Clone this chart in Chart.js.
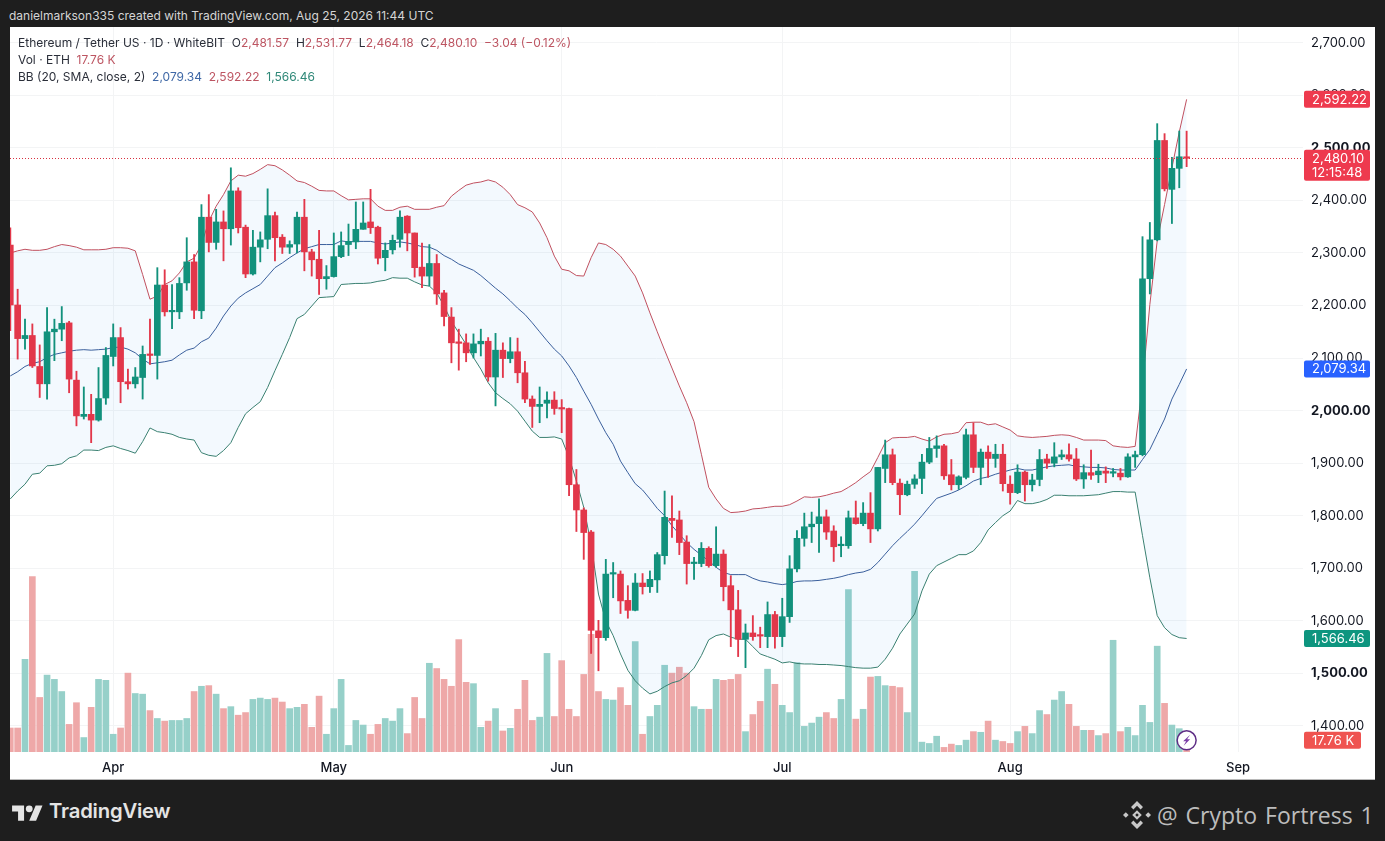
<!DOCTYPE html>
<html>
<head>
<meta charset="utf-8">
<title>ETH/USDT</title>
<script src="https://cdn.jsdelivr.net/npm/chart.js@4"></script>
<style>
  html, body { margin: 0; padding: 0; background: #1e1e1e; }
  body { width: 1385px; height: 841px; overflow: hidden; position: relative; font-family: Inter, sans-serif; }
  #panel { position: absolute; left: 10px; top: 27px; width: 1365px; height: 753px; background: #fff; border-bottom: 1px solid #b8b8b8; box-sizing: border-box; }
  canvas { position: absolute; left: 0; top: 0; }
  .abs { position: absolute; white-space: nowrap; }
  #credit { left: 9px; top: 8px; font-size: 12px; line-height: 15px; color: #d5d5d5; }
  .legend { left: 18px; font-size: 12px; line-height: 16px; color: #2a2e39; }
  .red { color: #bd5562; } .blue { color: #3f68a6; } .green { color: #2f8878; }
  #brand { left: 49px; top: 798px; font-size: 20.3px; line-height: 25px; font-weight: 600; color: #e4e4e4; letter-spacing: -0.2px; }
  #logo { left: 12px; top: 802px; }
  #watermark { left: 1157px; top: 797px; font-family: "Open Sans", sans-serif; font-size: 23px; line-height: 36px; color: #bcbcbc; word-spacing: 2px; }
  #bnb { left: 1123px; top: 801px; }
</style>
</head>
<body>
<div class="abs" id="credit">danielmarkson335 created with TradingView.com, Aug 25, 2026 11:44 UTC</div>
<div id="panel"><canvas id="chart" width="1365" height="752"></canvas></div>
<div class="abs legend" style="top:35px">Ethereum / Tether US · 1D · WhiteBIT &nbsp;O<span class="red">2,481.57</span> &nbsp;H<span class="red">2,531.77</span> &nbsp;L<span class="red">2,464.18</span> &nbsp;C<span class="red">2,480.10</span> &nbsp;<span class="red">−3.04 (−0.12%)</span></div>
<div class="abs legend" style="top:52px">Vol · ETH &nbsp;<span class="red">17.76 K</span></div>
<div class="abs legend" style="top:69px">BB (20, SMA, close, 2) &nbsp;<span class="blue">2,079.34</span> &nbsp;<span class="red">2,592.22</span> &nbsp;<span class="green">1,566.46</span></div>
<svg class="abs" id="logo" width="31" height="24" viewBox="0 0 36 28"><path fill="#e4e4e4" d="M14 22H7V11H0V4h14v18zM28 22h-8l7.5-18h8L28 22z"/><circle fill="#e4e4e4" cx="20" cy="8" r="4"/></svg>
<div class="abs" id="brand">TradingView</div>
<svg class="abs" id="bnb" width="28" height="28" viewBox="0 0 28 28"><g fill="#c8c8c8"><path d="M14 0l6 6-2.4 2.4L14 4.8l-3.6 3.6L8 6z"/><path d="M14 28l-6-6 2.4-2.4 3.6 3.6 3.6-3.6L20 22z"/><path d="M0 14l2.8-2.8L5.6 14l-2.8 2.8z"/><path d="M22.4 14l2.8-2.8L28 14l-2.8 2.8z"/><path d="M14 9.2l4.8 4.8L14 18.800l-4.800-4.800zM14 12.200L12.200 14l1.800 1.800 1.800-1.800z"/></g></svg>
<div class="abs" id="watermark">@ Crypto Fortress 1</div>

<script>
const opens = [2315,2201,2137,2143,2084,2051,2150,2155,2167,2058,1989,1993,1982,2024,2103,2139,2055,2051,2063,2107,2105,2239,2188,2188,2243,2283,2190,2368,2320,2359,2346,2418,2349,2260,2311,2326,2371,2330,2311,2317,2368,2302,2288,2251,2255,2293,2316,2321,2345,2359,2349,2291,2306,2326,2370,2338,2273,2256,2280,2224,2178,2130,2129,2110,2127,2132,2064,2115,2099,2112,2072,2022,2008,2014,2020,2005,2004,1859,1811,1769,1581,1568,1689,1689,1639,1620,1672,1665,1678,1724,1795,1792,1750,1709,1709,1738,1705,1727,1667,1621,1565,1577,1572,1570,1612,1570,1608,1699,1757,1779,1785,1798,1771,1743,1743,1796,1785,1805,1775,1890,1916,1862,1840,1860,1871,1902,1928,1933,1878,1859,1873,1954,1892,1921,1909,1917,1860,1844,1883,1859,1869,1908,1900,1912,1916,1908,1870,1882,1878,1885,1881,1881,1874,1912,1916,2251,2325,2514,2421,2461,2481.57];
const highs = [2348,2231,2174,2165,2125,2196,2174,2198,2170,2075,2045,2031,2082,2120,2165,2158,2079,2082,2123,2174,2272,2268,2240,2253,2329,2297,2392,2411,2383,2380,2462,2424,2353,2343,2340,2422,2378,2335,2323,2378,2402,2307,2343,2276,2338,2340,2355,2397,2397,2421,2351,2319,2334,2380,2371,2338,2319,2316,2297,2229,2196,2155,2146,2146,2155,2139,2147,2129,2139,2138,2094,2028,2045,2036,2036,2021,2005,1888,1815,1772,1601,1717,1711,1695,1667,1690,1690,1695,1730,1847,1838,1809,1762,1721,1749,1741,1779,1735,1686,1658,1594,1610,1588,1636,1618,1643,1724,1772,1805,1807,1832,1811,1781,1760,1809,1828,1825,1844,1892,1944,1927,1870,1866,1878,1917,1949,1952,1936,1907,1876,1965,1977,1927,1933,1936,1936,1876,1897,1885,1879,1926,1917,1939,1925,1937,1928,1897,1925,1898,1893,1890,1890,1918,1923,2331,2358,2546,2527,2482,2532,2531.77];
const lows = [2152,2098,2117,2082,2025,2022,2095,2133,2034,1971,1984,1939,1980,2012,2085,2015,2041,2043,2022,2088,2060,2180,2156,2175,2229,2175,2175,2302,2307,2285,2315,2338,2253,2258,2283,2308,2285,2299,2299,2300,2266,2256,2221,2231,2254,2291,2295,2308,2345,2337,2279,2266,2298,2311,2304,2254,2234,2237,2202,2161,2091,2077,2093,2100,2104,2056,2009,2063,2091,2053,2015,1968,1977,1986,1993,1958,1838,1770,1717,1538,1505,1563,1644,1614,1605,1619,1651,1654,1654,1708,1759,1726,1670,1679,1703,1702,1702,1638,1551,1532,1511,1563,1549,1549,1548,1551,1597,1693,1742,1749,1730,1755,1713,1722,1738,1784,1781,1749,1771,1863,1859,1802,1838,1852,1842,1899,1911,1869,1849,1850,1870,1882,1859,1873,1892,1847,1822,1842,1828,1847,1857,1890,1893,1907,1904,1867,1852,1869,1863,1863,1874,1868,1873,1892,1914,2222,2323,2418,2356,2424,2464.18];
const closes = [2201,2137,2143,2085,2051,2150,2155,2166,2060,1990,1993,1982,2023,2105,2139,2055,2051,2064,2107,2105,2239,2188,2189,2242,2283,2191,2368,2320,2359,2346,2418,2348,2260,2311,2325,2371,2329,2311,2316,2368,2302,2287,2251,2255,2293,2314,2322,2345,2357,2348,2290,2305,2324,2368,2338,2272,2256,2280,2222,2179,2129,2128,2110,2127,2132,2064,2115,2099,2112,2072,2022,2008,2012,2020,2004,2003,1859,1811,1768,1582,1568,1689,1689,1638,1620,1672,1665,1679,1726,1797,1791,1749,1709,1710,1738,1705,1727,1665,1621,1565,1577,1570,1571,1612,1570,1608,1699,1757,1779,1784,1798,1769,1741,1744,1796,1785,1805,1775,1892,1916,1863,1840,1860,1870,1902,1928,1933,1876,1859,1874,1954,1892,1921,1909,1917,1861,1844,1883,1859,1868,1907,1900,1912,1916,1908,1870,1882,1877,1885,1881,1883,1874,1912,1916,2251,2325,2514,2422,2461,2483,2480.10];
const volumes = [36.5,36.5,141,267,83,117,110.5,92,42,75,22,68,110.5,109,27,36.5,120,89,88,63,51,47,48,48,51,92,100,101,88,66,69,56,60,80,82,80,82,76,66,68,72.5,37.5,85,27,66,110.5,10,48,41,27,42,51,47,66,28,83,51,135,127,110.5,100,171,106,104,37.5,47,66,32,36,65,109,48,53,150,54,139,65,54,118,179,92,80,79,98,71,168,27,54,71,132,120,129,120,69,65,65,110.5,109,110.5,118,31,57,77,126,103,71,60,136,39,44,53,60,51,80,247,50,65,114,115,101,100,98,60,275,15,13,24,7,12,10,18,31,30,47,18,16,13,31,39,28,63,57,79,92,72.5,39,33,33,25,28,170,31,37.5,25,71,45,161,74,41,35.5,17.76];

const bbUpper = [2300,2304,2307,2305,2305,2307,2312,2316,2314,2311,2306,2306,2306,2307,2310,2310,2309,2304,2259,2212,2218,2240,2247,2262,2283,2290,2316,2360,2389,2411,2437,2448,2446,2451,2459,2468,2466,2458,2448,2437,2434,2427,2419,2418,2418,2409,2401,2402,2403,2403,2389,2381,2381,2387,2389,2383,2383,2383,2387,2390,2408,2419,2429,2433,2435,2439,2435,2425,2411,2392,2386,2378,2357,2329,2294,2269,2266,2257,2256,2291,2319,2316,2307,2294,2275,2256,2224,2186,2150,2115,2081,2047,2015,1979,1917,1854,1832,1814,1806,1807,1809,1813,1814,1816,1818,1818,1821,1828,1836,1835,1836,1839,1843,1846,1854,1863,1874,1884,1911,1939,1948,1949,1949,1951,1946,1942,1950,1955,1956,1959,1977,1978,1978,1973,1975,1969,1963,1952,1950,1949,1950,1951,1953,1954,1953,1949,1944,1944,1944,1943,1933,1931,1930,1932,2050,2202,2323,2392,2462,2530,2592.22];
const bbBasis = [2066,2074,2084,2090,2093,2101,2107,2110,2113,2115,2116,2115,2116,2117,2120,2121,2117,2110,2098,2089,2091,2093,2096,2106,2115,2119,2131,2138,2157,2180,2199,2214,2224,2232,2240,2256,2272,2281,2291,2300,2308,2312,2316,2316,2316,2323,2321,2322,2322,2322,2319,2317,2319,2321,2319,2316,2312,2311,2305,2295,2288,2279,2273,2267,2257,2245,2233,2222,2209,2195,2183,2167,2150,2133,2117,2104,2085,2063,2037,2012,1984,1958,1936,1904,1882,1861,1849,1832,1814,1800,1781,1765,1749,1736,1725,1714,1702,1692,1688,1688,1688,1681,1676,1674,1671,1669,1671,1675,1676,1676,1677,1679,1681,1684,1688,1691,1693,1698,1711,1727,1743,1757,1770,1784,1800,1817,1833,1838,1843,1849,1857,1866,1871,1874,1879,1883,1887,1890,1887,1887,1890,1893,1895,1896,1897,1894,1893,1892,1892,1891,1888,1887,1887,1887,1907,1926,1955,1984,2022,2050,2079.34];
const bbLower = [1832,1847,1860,1879,1881,1895,1896,1899,1910,1914,1925,1925,1924,1930,1933,1928,1924,1919,1941,1967,1960,1958,1955,1949,1946,1944,1920,1915,1913,1924,1939,1968,1994,2006,2017,2044,2076,2107,2139,2175,2183,2199,2215,2216,2217,2240,2241,2242,2242,2243,2246,2248,2253,2252,2252,2245,2239,2237,2224,2199,2170,2148,2126,2101,2079,2053,2034,2023,2013,1999,1980,1961,1949,1949,1950,1946,1911,1866,1816,1746,1651,1600,1572,1537,1506,1486,1472,1461,1466,1475,1482,1486,1496,1510,1534,1564,1572,1575,1569,1565,1565,1551,1537,1532,1527,1520,1522,1519,1518,1518,1517,1517,1516,1515,1513,1511,1510,1510,1512,1527,1548,1575,1594,1613,1657,1689,1705,1712,1719,1726,1726,1733,1749,1773,1787,1800,1809,1829,1823,1823,1826,1831,1839,1839,1838,1838,1838,1839,1840,1843,1846,1846,1845,1845,1762,1682,1610,1587,1574,1568,1566.46];

const priceTicks = [1400,1500,1600,1700,1800,1900,2000,2100,2200,2300,2400,2500,2600,2700];
const boldTicks = [1500,2000,2500];
const monthNames = ["Apr","May","Jun","Jul","Aug","Sep"];
const monthStarts = [14,44,75,105,136,167];
const lastClose = 2480.10;

const UP = "#12917c";
const DOWN = "#e2374a";
const lastIndex = closes.length - 1;

const xy = arr => arr.map((v, i) => ({ x: i, y: v }));
const candleColors = closes.map((c, i) => c >= opens[i] ? UP : DOWN);
const volColors = closes.map((c, i) => c >= opens[i] ? "#96d0c9" : "#eea8a8");

function fmt(v) {
  return v.toLocaleString("en-US", { minimumFractionDigits: 2, maximumFractionDigits: 2 });
}

function tag(ctx, scale, value, color, lines, width) {
  const h = 17 + (lines.length - 1) * 14;
  const y = scale.getPixelForValue(value) - 8.5;
  const left = scale.chart.chartArea.right + 1;
  ctx.fillStyle = color;
  ctx.beginPath();
  ctx.roundRect(left, y, width, h, 2);
  ctx.fill();
  ctx.fillStyle = "#fff";
  ctx.font = "13px Inter";
  ctx.textAlign = "left";
  ctx.textBaseline = "middle";
  lines.forEach((s, n) => ctx.fillText(s, left + 8, y + 9 + n * 14));
}

// drop the room chart.js keeps for the first and last tick label
function noPadding(axis) {
  axis.paddingTop = 0;
  axis.paddingBottom = 0;
  axis.paddingLeft = 0;
  axis.paddingRight = 0;
}

// last price line, axis tags and the little flash badge
const overlays = {
  id: "overlays",
  afterDraw(chart) {
    const { ctx, chartArea, scales } = chart;
    const y = scales.y;
    const yLast = Math.round(y.getPixelForValue(lastClose)) + 0.5;
    ctx.save();
    ctx.strokeStyle = "#d8303f";
    ctx.lineWidth = 1;
    ctx.setLineDash([1, 2]);
    ctx.beginPath();
    ctx.moveTo(chartArea.left, yLast);
    ctx.lineTo(chartArea.right, yLast);
    ctx.stroke();
    ctx.setLineDash([]);

    tag(ctx, y, bbUpper[lastIndex], "#ee3a4e", [fmt(bbUpper[lastIndex])], 66);
    tag(ctx, y, bbBasis[lastIndex], "#2962ff", [fmt(bbBasis[lastIndex])], 66);
    tag(ctx, y, bbLower[lastIndex], "#0d957f", [fmt(bbLower[lastIndex])], 66);
    tag(ctx, y, lastClose, "#ee3a4e", [fmt(lastClose), "12:15:48"], 66);
    tag(ctx, scales.yVol, volumes[lastIndex], "#ef5350", ["17.76 K"], 57);

    const cx = scales.x.getPixelForValue(lastIndex);
    const cy = scales.yVol.getPixelForValue(volumes[lastIndex]);
    ctx.fillStyle = "#fff";
    ctx.strokeStyle = "#5e2d85";
    ctx.lineWidth = 1.5;
    ctx.beginPath();
    ctx.arc(cx, cy, 9.5, 0, Math.PI * 2);
    ctx.fill();
    ctx.stroke();
    ctx.fillStyle = "#7b3fa8";
    ctx.beginPath();
    ctx.moveTo(cx + 3.5, cy - 5.5);
    ctx.lineTo(cx - 3.5, cy + 1);
    ctx.lineTo(cx - 0.5, cy + 1);
    ctx.lineTo(cx - 3, cy + 5.5);
    ctx.lineTo(cx + 3.5, cy - 1);
    ctx.lineTo(cx + 0.5, cy - 1);
    ctx.closePath();
    ctx.fill();
    ctx.restore();
  }
};

new Chart(document.getElementById("chart").getContext("2d"), {
  data: {
    datasets: [
      { type: "bar", order: 6, yAxisID: "yVol", data: xy(volumes), backgroundColor: volColors, barThickness: 6, grouped: false },
      { type: "line", order: 4, data: xy(bbUpper), borderColor: "#c0505f", borderWidth: 1, pointRadius: 0, fill: { target: 3 }, backgroundColor: "rgba(33,150,243,0.055)" },
      { type: "line", order: 3, data: xy(bbBasis), borderColor: "#3a5f9c", borderWidth: 1, pointRadius: 0, fill: false },
      { type: "line", order: 3, data: xy(bbLower), borderColor: "#3a8071", borderWidth: 1, pointRadius: 0, fill: false },
      { type: "bar", order: 2, data: lows.map((v, i) => ({ x: i, y: [v, highs[i]] })), backgroundColor: candleColors, barThickness: 1.2, grouped: false },
      { type: "bar", order: 1, data: opens.map((v, i) => ({ x: i, y: [v, closes[i]] })), backgroundColor: candleColors, barThickness: 6, minBarLength: 1.5, grouped: false }
    ]
  },
  options: {
    responsive: false,
    animation: false,
    events: [],
    layout: { padding: 0 },
    plugins: { legend: { display: false }, tooltip: { enabled: false } },
    scales: {
      x: {
        type: "linear",
        offset: false,
        min: -0.04,
        max: 175.83,
        afterBuildTicks: axis => { axis.ticks = monthStarts.map(v => ({ value: v })); },
        afterFit: axis => { axis.height = 27; noPadding(axis); },
        grid: { color: "#f3f4f5", drawTicks: false, offset: false },
        border: { display: false },
        ticks: {
          autoSkip: false,
          maxRotation: 0,
          padding: 8,
          color: "#131722",
          font: { family: "Inter", size: 13, weight: "500" },
          callback: v => monthNames[monthStarts.indexOf(v)]
        }
      },
      y: {
        type: "linear",
        position: "right",
        bounds: "data",
        min: 1350.5,
        max: 2729.9,
        afterBuildTicks: axis => { axis.ticks = priceTicks.map(v => ({ value: v })); },
        afterFit: axis => { axis.width = 72; noPadding(axis); },
        grid: { color: "#f3f4f5", drawTicks: false },
        border: { display: false },
        ticks: {
          autoSkip: false,
          padding: 8,
          color: "#131722",
          font: ctx => ({ family: "Inter", size: 13, weight: boldTicks.includes(ctx.tick && ctx.tick.value) ? "700" : "400" }),
          callback: v => fmt(v)
        }
      },
      yVol: { type: "linear", display: false, min: 0, max: 1103 }
    }
  },
  plugins: [overlays]
});
</script>
</body>
</html>
